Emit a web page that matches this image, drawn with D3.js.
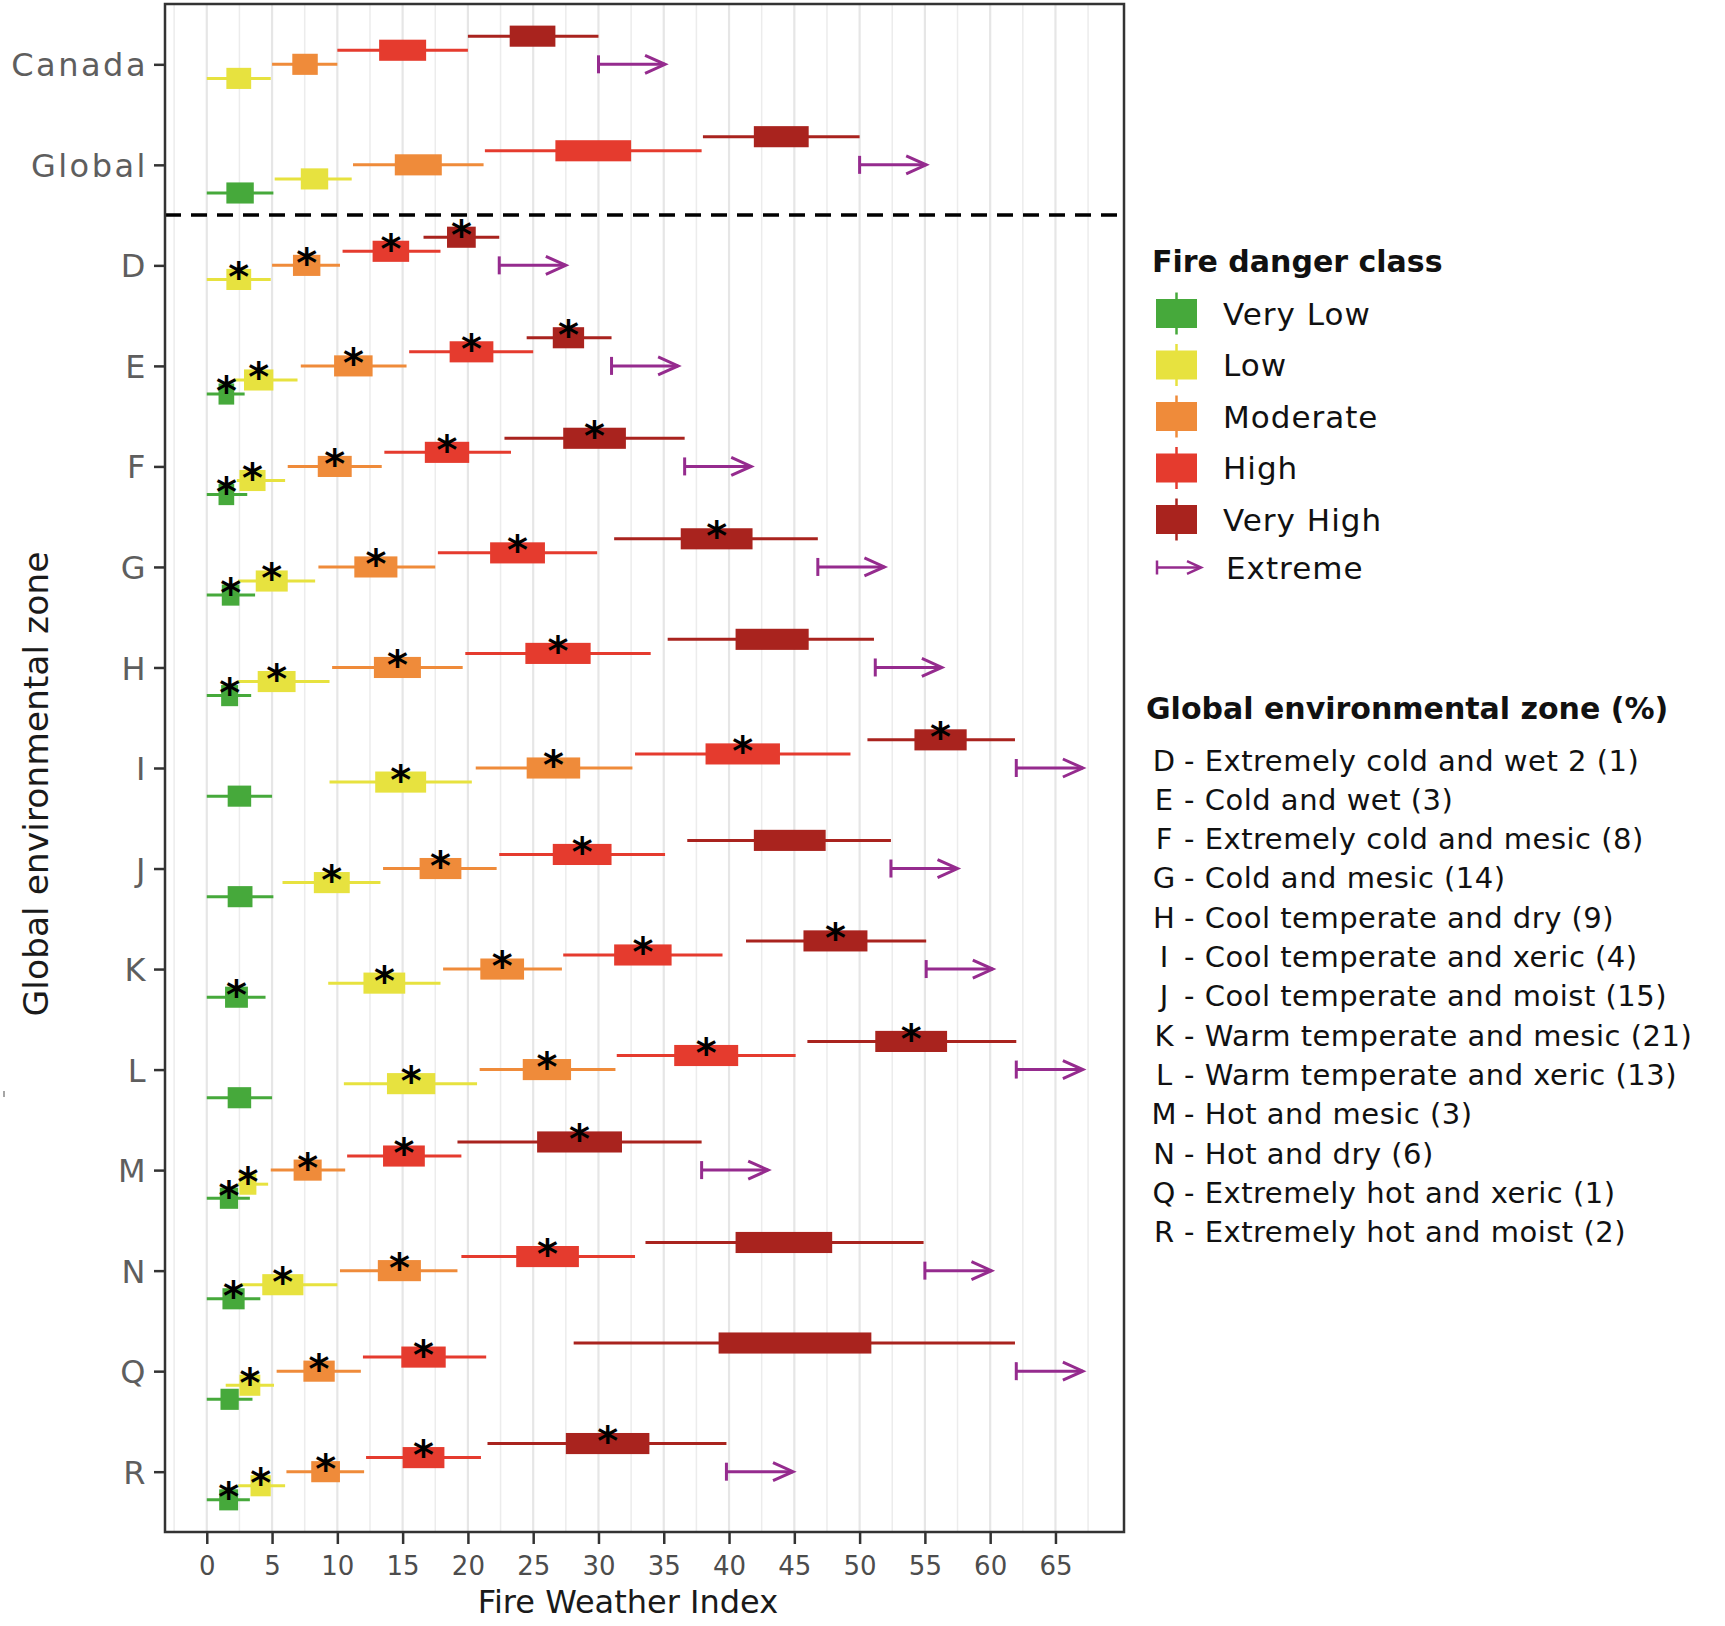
<!DOCTYPE html>
<html>
<head>
<meta charset="utf-8">
<script src="https://cdn.jsdelivr.net/npm/d3@7"></script>
<style>
  body { margin: 0; background: #fff; }
  text { font-family: "DejaVu Sans", sans-serif; }
</style>
</head>
<body>
<div id="chart"></div>
<script>
// zones on the y axis, top to bottom
const zones = ["Canada", "Global", "D", "E", "F", "G", "H", "I", "J", "K", "L", "M", "N", "Q", "R"];
const classNames = ["Very Low", "Low", "Moderate", "High", "Very High"];

// [whisker low, box low, box high, whisker high] per zone, null = class absent
const veryLow = [null, [0, 1.5, 3.6, 5.1], null, [0, 0.9, 2.1, 2.9], [0, 0.9, 2.1, 3.1],
  [0, 1.15, 2.5, 3.7], [0, 1.1, 2.4, 3.4], [0, 1.6, 3.4, 5.0], [0, 1.6, 3.5, 5.1],
  [0, 1.4, 3.15, 4.5], [0, 1.6, 3.4, 5.0], [0, 1.0, 2.4, 3.3], [0, 1.2, 2.9, 4.1],
  [0, 1.05, 2.45, 3.5], [0, 0.95, 2.4, 3.3]];
const low = [[0, 1.5, 3.4, 4.9], [5.2, 7.2, 9.3, 11.1], [0, 1.5, 3.4, 4.9], [2.1, 2.85, 5.1, 6.95],
  [2.3, 2.5, 4.5, 6.0], [2.4, 3.75, 6.2, 8.3], [2.4, 3.9, 6.8, 9.4], [9.4, 12.9, 16.8, 20.3],
  [5.8, 8.2, 10.95, 13.3], [9.3, 12.0, 15.2, 17.9], [10.5, 13.8, 17.5, 20.7], [2.4, 2.5, 3.8, 4.7],
  [2.6, 4.25, 7.4, 10.0], [1.45, 2.5, 4.1, 5.15], [2.4, 3.35, 4.9, 6.0]];
const moderate = [[5.0, 6.55, 8.5, 10.0], [11.2, 14.4, 18.0, 21.2], [5.0, 6.6, 8.7, 10.2],
  [7.2, 9.75, 12.7, 15.3], [6.2, 8.5, 11.1, 13.4], [8.55, 11.3, 14.6, 17.5], [9.6, 12.8, 16.4, 19.6],
  [20.6, 24.5, 28.6, 32.6], [13.5, 16.3, 19.5, 22.2], [18.1, 20.95, 24.3, 27.2], [20.9, 24.2, 27.9, 31.3],
  [4.9, 6.65, 8.8, 10.6], [10.2, 13.1, 16.4, 19.2], [5.35, 7.4, 9.8, 11.8], [6.1, 8.0, 10.2, 12.05]];
const high = [[10.0, 13.2, 16.8, 20.0], [21.3, 26.7, 32.5, 37.9], [10.4, 12.7, 15.5, 17.9],
  [15.5, 18.6, 21.95, 25.0], [13.6, 16.7, 20.1, 23.3], [17.7, 21.7, 25.9, 29.9], [19.8, 24.4, 29.4, 34.0],
  [32.8, 38.2, 43.9, 49.3], [22.4, 26.5, 31.0, 35.1], [27.3, 31.2, 35.6, 39.5], [31.4, 35.8, 40.7, 45.1],
  [10.75, 13.5, 16.7, 19.5], [19.5, 23.7, 28.5, 32.8], [11.96, 14.9, 18.3, 21.4], [12.2, 15.0, 18.2, 21.0]];
const veryHigh = [[20.0, 23.2, 26.7, 30.0], [38.0, 41.9, 46.1, 50.0], [16.6, 18.4, 20.6, 22.4],
  [24.5, 26.5, 28.9, 31.0], [22.8, 27.3, 32.1, 36.6], [31.2, 36.3, 41.8, 46.8], [35.3, 40.5, 46.1, 51.1],
  [50.6, 54.2, 58.2, 61.9], [36.8, 41.9, 47.4, 52.4], [41.3, 45.7, 50.6, 55.1], [46.0, 51.2, 56.7, 62.0],
  [19.2, 25.3, 31.8, 37.9], [33.6, 40.5, 47.9, 54.9], [28.1, 39.2, 50.9, 61.9], [21.5, 27.5, 33.9, 39.8]];

// significance stars (1 = asterisk) per zone
const starVeryLow = [0, 0, 0, 1, 1, 1, 1, 0, 0, 1, 0, 1, 1, 0, 1];
const starLow = [0, 0, 1, 1, 1, 1, 1, 1, 1, 1, 1, 1, 1, 1, 1];
const starModerate = [0, 0, 1, 1, 1, 1, 1, 1, 1, 1, 1, 1, 1, 1, 1];
const starHigh = [0, 0, 1, 1, 1, 1, 1, 1, 1, 1, 1, 1, 1, 1, 1];
const starVeryHigh = [0, 0, 1, 1, 1, 1, 0, 1, 0, 1, 1, 1, 0, 0, 1];

// start of the open-ended extreme class
const extremeStart = [30, 50, 22.4, 31.0, 36.6, 46.8, 51.2, 62.0, 52.4, 55.1, 62.0, 37.9, 55.0, 62.0, 39.8];
const extremeLength = 5.1;

const xTicks = [0, 5, 10, 15, 20, 25, 30, 35, 40, 45, 50, 55, 60, 65];

const zoneCodes = ["D", "E", "F", "G", "H", "I", "J", "K", "L", "M", "N", "Q", "R"];
const zoneNames = ["Extremely cold and wet 2", "Cold and wet", "Extremely cold and mesic",
  "Cold and mesic", "Cool temperate and dry", "Cool temperate and xeric", "Cool temperate and moist",
  "Warm temperate and mesic", "Warm temperate and xeric", "Hot and mesic", "Hot and dry",
  "Extremely hot and xeric", "Extremely hot and moist"];
const zoneShares = [1, 3, 8, 14, 9, 4, 15, 21, 13, 3, 6, 1, 2];

const colors = ["#46a93b", "#e7e23f", "#ef8b3a", "#e53b2e", "#a9231e"];
const extremeColor = "#952b8e";

const classData = [veryLow, low, moderate, high, veryHigh];
const classStars = [starVeryLow, starLow, starModerate, starHigh, starVeryHigh];

// layout
const W = 1725, H = 1626;
const plot = { left: 165, right: 1124, top: 4, bottom: 1532 };

const svg = d3.select("#chart").append("svg")
  .attr("width", W).attr("height", H)
  .style("background", "#fff");

const x = d3.scaleLinear().domain([-3.2, 70.25]).range([plot.left, plot.right]);
const y = d3.scalePoint().domain(zones).range([plot.top, plot.bottom]).padding(0.6);
const step = y.step();
const dodge = 0.14 * step;
const boxH = 0.21 * step;

// grid
const minor = d3.range(-2.5, 70, 5);
svg.append("g").selectAll("line").data(minor).join("line")
  .attr("x1", d => x(d)).attr("x2", d => x(d))
  .attr("y1", plot.top).attr("y2", plot.bottom)
  .attr("stroke", "#ececec").attr("stroke-width", 1.5);
svg.append("g").selectAll("line").data(xTicks).join("line")
  .attr("x1", d => x(d)).attr("x2", d => x(d))
  .attr("y1", plot.top).attr("y2", plot.bottom)
  .attr("stroke", "#e6e6e6").attr("stroke-width", 2.2);

// separator between summary rows and zones
svg.append("line")
  .attr("x1", plot.left).attr("x2", plot.right)
  .attr("y1", (y("Global") + y("D")) / 2).attr("y2", (y("Global") + y("D")) / 2)
  .attr("stroke", "#000").attr("stroke-width", 3.5)
  .attr("stroke-dasharray", "16,10");

// boxes, whiskers and stars
const marks = svg.append("g");
classData.forEach((series, ci) => {
  const off = (2 - ci) * dodge;
  const rows = series.map((v, i) => ({ zone: zones[i], v: v, star: classStars[ci][i] }))
    .filter(d => d.v);
  const g = marks.append("g");
  g.selectAll("line").data(rows).join("line")
    .attr("x1", d => x(d.v[0])).attr("x2", d => x(d.v[3]))
    .attr("y1", d => y(d.zone) + off).attr("y2", d => y(d.zone) + off)
    .attr("stroke", colors[ci]).attr("stroke-width", 3);
  g.selectAll("rect").data(rows).join("rect")
    .attr("x", d => x(d.v[1])).attr("width", d => x(d.v[2]) - x(d.v[1]))
    .attr("y", d => y(d.zone) + off - boxH / 2).attr("height", boxH)
    .attr("fill", colors[ci]);
});
classData.forEach((series, ci) => {
  const off = (2 - ci) * dodge;
  const rows = series.map((v, i) => ({ zone: zones[i], v: v, star: classStars[ci][i] }))
    .filter(d => d.v && d.star);
  marks.append("g").selectAll("text").data(rows).join("text")
    .attr("x", d => x((d.v[1] + d.v[2]) / 2))
    .attr("y", d => y(d.zone) + off - boxH / 2 + 22)
    .attr("text-anchor", "middle")
    .style("font-size", "40px").style("font-weight", "bold")
    .attr("fill", "#000")
    .text("*");
});

// extreme arrows
function arrow(g, x0, x1, yy, bar, head) {
  g.append("line").attr("x1", x0).attr("x2", x1).attr("y1", yy).attr("y2", yy);
  g.append("line").attr("x1", x0).attr("x2", x0).attr("y1", yy - bar).attr("y2", yy + bar);
  g.append("polyline").attr("points", [[x1 - head, yy - head * 0.45], [x1, yy], [x1 - head, yy + head * 0.45]].join(" "));
}
const arrows = svg.append("g").attr("stroke", extremeColor).attr("stroke-width", 3).attr("fill", "none");
extremeStart.forEach((s, i) => {
  arrow(arrows, x(s), x(s + extremeLength), y(zones[i]), 9, 20);
});

// panel border
svg.append("rect")
  .attr("x", plot.left).attr("y", plot.top)
  .attr("width", plot.right - plot.left).attr("height", plot.bottom - plot.top)
  .attr("fill", "none").attr("stroke", "#333").attr("stroke-width", 2.5);

// y axis
const yAxis = svg.append("g").attr("transform", `translate(${plot.left},0)`)
  .call(d3.axisLeft(y).tickSize(11).tickPadding(6));
yAxis.select(".domain").remove();
yAxis.selectAll(".tick line").attr("stroke", "#333").attr("stroke-width", 2.5);
yAxis.selectAll(".tick text")
  .attr("fill", "#5e5e5e").style("font-size", "32px")
  .style("letter-spacing", "2.5px").attr("dy", "0.36em");

// x axis
const xAxis = svg.append("g").attr("transform", `translate(0,${plot.bottom})`)
  .call(d3.axisBottom(x).tickValues(xTicks).tickSize(12).tickPadding(6));
xAxis.select(".domain").remove();
xAxis.selectAll(".tick line").attr("stroke", "#333").attr("stroke-width", 2.5);
xAxis.selectAll(".tick text")
  .attr("fill", "#4d4d4d").style("font-size", "26px").attr("dy", "0.95em");

// axis titles
svg.append("text")
  .attr("x", 628).attr("y", 1613)
  .attr("text-anchor", "middle")
  .style("font-size", "32px").attr("fill", "#1a1a1a")
  .text("Fire Weather Index");
svg.append("text")
  .attr("transform", "translate(48,784) rotate(-90)")
  .attr("text-anchor", "middle")
  .style("font-size", "34.5px").attr("fill", "#1a1a1a")
  .text("Global environmental zone");

// small stray mark on the left edge
svg.append("line").attr("x1", 4).attr("x2", 4).attr("y1", 1091).attr("y2", 1097)
  .attr("stroke", "#888").attr("stroke-width", 1.5);

// legend: fire danger class
const leg = svg.append("g");
leg.append("text").attr("x", 1152).attr("y", 272)
  .style("font-size", "30px").style("font-weight", "bold").attr("fill", "#111")
  .text("Fire danger class");
const legY0 = 313.5, legStep = 51.5;
classNames.forEach((name, i) => {
  const cy = legY0 + i * legStep;
  leg.append("line").attr("x1", 1176.5).attr("x2", 1176.5)
    .attr("y1", cy - 21).attr("y2", cy + 21)
    .attr("stroke", colors[i]).attr("stroke-width", 2.5);
  leg.append("rect").attr("x", 1156).attr("y", cy - 14.5)
    .attr("width", 41).attr("height", 29).attr("fill", colors[i]);
  leg.append("text").attr("x", 1223).attr("y", cy + 11)
    .style("font-size", "31px").style("letter-spacing", "1px").attr("fill", "#111").text(name);
});
const extY = 567.5;
const legArrow = leg.append("g").attr("stroke", extremeColor).attr("stroke-width", 2.5).attr("fill", "none");
arrow(legArrow, 1157, 1201, extY, 7, 14);
leg.append("text").attr("x", 1226).attr("y", extY + 11)
  .style("font-size", "31px").style("letter-spacing", "1px").attr("fill", "#111").text("Extreme");

// legend: environmental zones
const zl = svg.append("g");
zl.append("text").attr("x", 1146).attr("y", 719)
  .style("font-size", "30px").style("font-weight", "bold").attr("fill", "#111")
  .text("Global environmental zone (%)");
zoneCodes.forEach((c, i) => {
  const cy = 760 + i * 39.3;
  zl.append("text").attr("x", 1164).attr("y", cy + 10.5)
    .attr("text-anchor", "middle")
    .style("font-size", "29px").attr("fill", "#111").text(c);
  zl.append("text").attr("x", 1184).attr("y", cy + 10.5)
    .style("font-size", "29px").style("letter-spacing", "0.5px").attr("fill", "#111")
    .text("- " + zoneNames[i] + " (" + zoneShares[i] + ")");
});
</script>
</body>
</html>
